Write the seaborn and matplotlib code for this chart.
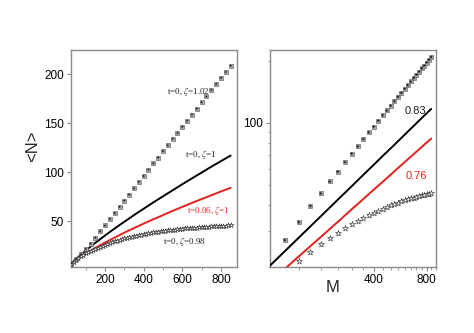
import numpy as np
import pandas as pd
import matplotlib
matplotlib.use("Agg")
import matplotlib.pyplot as plt
from matplotlib.ticker import FixedLocator, NullFormatter, FixedFormatter
import seaborn as sns

sns.set_style("ticks")
plt.rcParams["font.family"] = ["Liberation Sans", "DejaVu Sans"]
plt.rcParams["mathtext.fontset"] = "stix"

# t=0, zeta=1.02 (boxed asterisks), every 25 in M
m_star = [25, 50, 75, 100, 125, 150, 175, 200, 225, 250, 275, 300, 325, 350,
          375, 400, 425, 450, 475, 500, 525, 550, 575, 600, 625, 650, 675,
          700, 725, 750, 775, 800, 825, 850]
n_star = [6.5, 11, 16, 21.5, 27, 33, 39.5, 45.5, 52, 58, 64.5, 71, 77, 83.5,
          90, 96, 102.5, 109, 115, 121.5, 127.5, 134, 140, 146.5, 152.5, 159,
          165, 171.5, 177.5, 184, 190, 196.5, 202.5, 209]

# t=0, zeta=0.98 (open stars), every 12.5 in M
m_open = [25, 37.5, 50, 62.5, 75, 87.5, 100, 112.5, 125, 137.5, 150, 162.5,
          175, 187.5, 200, 212.5, 225, 237.5, 250, 262.5, 275, 287.5, 300,
          312.5, 325, 337.5, 350, 362.5, 375, 387.5, 400, 412.5, 425, 437.5,
          450, 462.5, 475, 487.5, 500, 512.5, 525, 537.5, 550, 562.5, 575,
          587.5, 600, 612.5, 625, 637.5, 650, 662.5, 675, 687.5, 700, 712.5,
          725, 737.5, 750, 762.5, 775, 787.5, 800, 812.5, 825, 837.5, 850]
n_open = [6.5, 8.6, 10.5, 12.3, 14.0, 15.6, 17.0, 18.2, 19.3, 20.4, 21.4, 22.6,
          23.7, 24.8, 25.8, 26.7, 27.6, 28.4, 29.2, 30.1, 30.9, 31.6, 32.2,
          32.9, 33.5, 34.1, 34.7, 35.2, 35.7, 36.2, 36.7, 37.2, 37.6, 38.0,
          38.4, 38.8, 39.1, 39.5, 39.8, 40.1, 40.4, 40.7, 41.0, 41.3, 41.6,
          41.9, 42.1, 42.4, 42.6, 42.8, 43.0, 43.2, 43.4, 43.6, 43.8, 44.0,
          44.2, 44.4, 44.5, 44.7, 44.8, 45.0, 45.1, 45.3, 45.4, 45.5, 45.6]

# smooth curves: t=0, zeta=1 (black) and t=0.06, zeta=1 (red)
m_line = [20, 50, 100, 150, 200, 250, 300, 350, 400, 450, 500, 550, 600,
          650, 700, 750, 800, 850]
n_black = [5.21, 11.15, 19.82, 27.74, 35.2, 42.4, 49.3, 56.1, 62.6, 69.1,
           75.3, 81.5, 87.7, 93.7, 99.6, 105.6, 111.3, 117.0]
n_red = [4.86, 9.76, 16.5, 22.5, 27.95, 33.1, 38.1, 42.8, 47.4, 51.8, 56.1,
         60.4, 64.5, 68.6, 72.5, 76.4, 80.3, 84.0]

slope_black = "0.83"
slope_red = "0.76"

RED = "#e3211c"
SPINE = "#8a8a8a"

df_star = pd.DataFrame({"M": m_star, "N": n_star})
df_open = pd.DataFrame({"M": m_open, "N": n_open})
df_line = pd.DataFrame({"M": m_line, "black": n_black, "red": n_red})
df_open_sparse = df_open.iloc[::2]

fig = plt.figure(figsize=(4.74, 3.33), dpi=100)
axL = fig.add_axes([71 / 474, 1 - 267 / 333, 166 / 474, 217 / 333])
axR = fig.add_axes([270 / 474, 1 - 267 / 333, 166 / 474, 217 / 333])


def draw_series(ax, open_df, ms_scale=1.0):
    sns.lineplot(data=df_line, x="M", y="black", ax=ax, color="black",
                 lw=1.4, zorder=3)
    sns.lineplot(data=df_line, x="M", y="red", ax=ax, color=RED,
                 lw=1.4, zorder=3)
    sns.scatterplot(data=df_star, x="M", y="N", ax=ax, marker="s",
                    s=8 * ms_scale, color="#a8a8a8", edgecolor="#555555",
                    linewidth=0.4, zorder=4)
    sns.scatterplot(data=df_star, x="M", y="N", ax=ax, marker="*",
                    s=5 * ms_scale, color="#111111", edgecolor="none",
                    zorder=5)
    sns.scatterplot(data=open_df, x="M", y="N", ax=ax, marker="*",
                    s=14 * ms_scale, color="white", edgecolor="#333333",
                    linewidth=0.45, zorder=4)


def style_axes(ax):
    for sp in ax.spines.values():
        sp.set_color(SPINE)
        sp.set_linewidth(1.0)
        sp.set_visible(True)
    ax.tick_params(which="both", direction="out", colors=SPINE,
                   labelcolor="black", labelsize=8.5, pad=2,
                   bottom=True, left=True, top=False, right=False)
    ax.tick_params(which="major", length=3, width=0.8)
    ax.tick_params(which="minor", length=1.8, width=0.6)
    ax.set_xlabel("")
    ax.set_ylabel("")


# left panel: linear axes
draw_series(axL, df_open)
axL.set_xlim(24, 883)
axL.set_ylim(3, 225)
axL.xaxis.set_major_locator(FixedLocator([200, 400, 600, 800]))
axL.xaxis.set_minor_locator(FixedLocator([100, 300, 500, 700]))
axL.yaxis.set_major_locator(FixedLocator([50, 100, 150, 200]))
style_axes(axL)

serif = ["Liberation Serif", "DejaVu Serif"]
axL.text(520, 183, r"t=0, $\zeta$=1.02", fontsize=6.5, family=serif,
         color="#222222", va="center")
axL.text(613, 118, r"t=0, $\zeta$=1", fontsize=6.5, family=serif,
         color="#222222", va="center")
axL.text(622, 60.6, r"t=0.06, $\zeta$=1", fontsize=6.5, family=serif,
         color=RED, va="center")
axL.text(500, 29.4, r"t=0, $\zeta$=0.98", fontsize=6.5, family=serif,
         color="#222222", va="center")

# right panel: log-log axes
draw_series(axR, df_open_sparse, ms_scale=1.4)
axR.set_xscale("log")
axR.set_yscale("log")
axR.set_xlim(103, 905)
axR.set_ylim(20, 226)
axR.xaxis.set_major_locator(FixedLocator([400, 800]))
axR.xaxis.set_major_formatter(FixedFormatter(["400", "800"]))
axR.xaxis.set_minor_locator(FixedLocator(
    [150, 200, 250, 300, 350, 450, 500, 550, 600, 650, 700, 750, 850, 900]))
axR.xaxis.set_minor_formatter(NullFormatter())
axR.yaxis.set_major_locator(FixedLocator([100]))
axR.yaxis.set_major_formatter(FixedFormatter(["100"]))
axR.yaxis.set_minor_locator(FixedLocator([20, 30, 40, 50, 60, 70, 80, 90, 200]))
axR.yaxis.set_minor_formatter(NullFormatter())
style_axes(axR)

axR.text(601, 114, slope_black, fontsize=8, color="#222222", va="center")
axR.text(606, 55.4, slope_red, fontsize=8, color=RED, va="center")

fig.text(33 / 474, 1 - 146 / 333, "<N>", rotation=90, fontsize=12,
         ha="center", va="center")
fig.text(333 / 474, 1 - 287 / 333, "M", fontsize=12, ha="center",
         va="center")

fig.savefig("out.png", dpi=100)
